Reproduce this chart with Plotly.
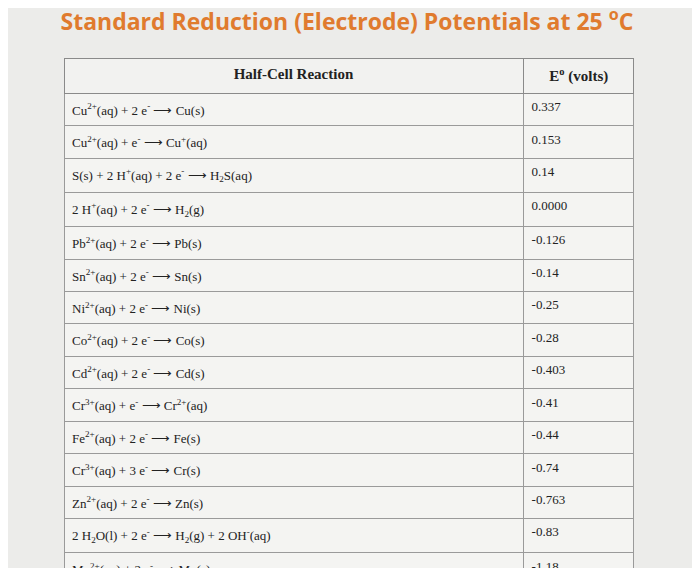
import plotly.graph_objects as go

# Data
reactions = [
    "Cu<sup>2+</sup>(aq) + 2 e<sup>-</sup> ⟶ Cu(s)",
    "Cu<sup>2+</sup>(aq) + e<sup>-</sup> ⟶ Cu<sup>+</sup>(aq)",
    "S(s) + 2 H<sup>+</sup>(aq) + 2 e<sup>-</sup> ⟶ H<sub>2</sub>S(aq)",
    "2 H<sup>+</sup>(aq) + 2 e<sup>-</sup> ⟶ H<sub>2</sub>(g)",
    "Pb<sup>2+</sup>(aq) + 2 e<sup>-</sup> ⟶ Pb(s)",
    "Sn<sup>2+</sup>(aq) + 2 e<sup>-</sup> ⟶ Sn(s)",
    "Ni<sup>2+</sup>(aq) + 2 e<sup>-</sup> ⟶ Ni(s)",
    "Co<sup>2+</sup>(aq) + 2 e<sup>-</sup> ⟶ Co(s)",
    "Cd<sup>2+</sup>(aq) + 2 e<sup>-</sup> ⟶ Cd(s)",
    "Cr<sup>3+</sup>(aq) + e<sup>-</sup> ⟶ Cr<sup>2+</sup>(aq)",
    "Fe<sup>2+</sup>(aq) + 2 e<sup>-</sup> ⟶ Fe(s)",
    "Cr<sup>3+</sup>(aq) + 3 e<sup>-</sup> ⟶ Cr(s)",
    "Zn<sup>2+</sup>(aq) + 2 e<sup>-</sup> ⟶ Zn(s)",
    "2 H<sub>2</sub>O(l) + 2 e<sup>-</sup> ⟶ H<sub>2</sub>(g) + 2 OH<sup>-</sup>(aq)",
    "Mn<sup>2+</sup>(aq) + 2 e<sup>-</sup> ⟶ Mn(s)",
    "Al<sup>3+</sup>(aq) + 3 e<sup>-</sup> ⟶ Al(s)",
    "Mg<sup>2+</sup>(aq) + 2 e<sup>-</sup> ⟶ Mg(s)",
]
potentials = ["0.337", "0.153", "0.14", "0.0000", "-0.126", "-0.14", "-0.25", "-0.28",
              "-0.403", "-0.41", "-0.44", "-0.74", "-0.763", "-0.83", "-1.18", "-1.66", "-2.37"]
headers = ["<b>Half-Cell Reaction</b>", "<b>E<sup>o</sup> (volts)</b>"]

fig = go.Figure(go.Table(
    domain=dict(x=[0.08, 0.895], y=[0, 1]),
    columnwidth=[458, 110],
    header=dict(
        values=headers,
        align=["center", "center"],
        height=30,
        fill_color="#f2f2f0",
        line_color="#8a8a8a",
        font=dict(family="Liberation Serif", size=15, color="#222"),
    ),
    cells=dict(
        values=[reactions, potentials],
        align=["left", "left"],
        height=20,
        fill_color="#f4f4f2",
        line_color="#9a9a9a",
        font=dict(family="Liberation Serif", size=13, color="#222"),
    ),
))

fig.update_layout(
    width=700, height=568,
    margin=dict(l=0, r=0, t=50, b=0),
    paper_bgcolor="#ececea",
    title=dict(
        text="<b>Standard Reduction (Electrode) Potentials at 25 <sup>o</sup>C</b>",
        x=0.075, xanchor="left", y=0.99, yanchor="top",
        font=dict(family="Open Sans", size=23, color="#e07b2e"),
    ),
)

fig.write_html("out.html")
